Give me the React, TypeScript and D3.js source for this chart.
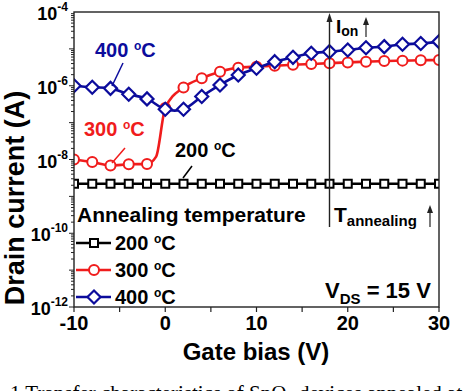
import React from "react";
import * as d3 from "d3";

// gate bias sweep (V), markers every 2 V
const gateBias = [-10, -8, -6, -4, -2, 0, 2, 4, 6, 8, 10, 12, 14, 16, 18, 20, 22, 24, 26, 28, 30];
const i200 = [2.2e-9, 2.2e-9, 2.2e-9, 2.2e-9, 2.2e-9, 2.2e-9, 2.2e-9, 2.2e-9, 2.2e-9, 2.2e-9, 2.2e-9,
  2.2e-9, 2.2e-9, 2.2e-9, 2.2e-9, 2.2e-9, 2.2e-9, 2.2e-9, 2.2e-9, 2.2e-9, 2.2e-9];
// 300 C has the steep turn-on read at -1 V too
const bias300 = [-10, -8, -6, -4, -2, -1, 0, 2, 4, 6, 8, 10, 12, 14, 16, 18, 20, 22, 24, 26, 28, 30];
const i300 = [1.0e-8, 8.5e-9, 6.9e-9, 7.4e-9, 7.6e-9, 1.2e-8, 2.5e-7, 9e-7, 1.6e-6, 2.4e-6, 3.1e-6,
  3.3e-6, 3.5e-6, 3.7e-6, 3.9e-6, 4.1e-6, 4.3e-6, 4.5e-6, 4.7e-6, 4.8e-6, 4.9e-6, 5.0e-6];
const i400 = [1.0e-6, 9.1e-7, 8.5e-7, 5.9e-7, 4.4e-7, 2.3e-7, 2.3e-7, 5.1e-7, 1.05e-6, 1.95e-6, 3.0e-6,
  4.5e-6, 5.9e-6, 7.6e-6, 8.4e-6, 9.3e-6, 1.07e-5, 1.15e-5, 1.33e-5, 1.4e-5, 1.57e-5];

const xTicks = [-10, 0, 10, 20, 30];
const xMinor = [-5, 5, 15, 25];
const yExponents = [-4, -6, -8, -10, -12];
const legendLabels = ["200", "300", "400"];

const RED = "#f01c1c";
const BLUE = "#0c0c9c";
const FONT = "'Liberation Sans', Arial, sans-serif";

const x = d3.scaleLinear().domain([-10, 30]).range([74, 439]);
const y = d3.scaleLog().domain([1e-12, 1e-4]).range([307, 12]);

type Pt = { v: number; i: number };

function Marker({ kind, cx, cy, color }: { kind: string; cx: number; cy: number; color: string }) {
  if (kind === "square")
    return <rect x={cx - 4} y={cy - 4} width={8} height={8} fill="#fff" stroke={color} strokeWidth={2} />;
  if (kind === "circle")
    return <circle cx={cx} cy={cy} r={5} fill="#fff" stroke={color} strokeWidth={2} />;
  return (
    <path d={`M${cx},${cy - 6.5}L${cx + 6.5},${cy}L${cx},${cy + 6.5}L${cx - 6.5},${cy}Z`}
      fill="#fff" stroke={color} strokeWidth={2.2} />
  );
}

function Deg({ t }: { t: string }) {
  return (
    <>
      {t + " "}
      <tspan fontSize="0.6em" dy="-0.6em">o</tspan>
      <tspan dy="0.36em">C</tspan>
    </>
  );
}

export default function App() {
  const s200: Pt[] = gateBias.map((v, k) => ({ v, i: i200[k] }));
  const s300: Pt[] = bias300.map((v, k) => ({ v, i: i300[k] }));
  const s400: Pt[] = gateBias.map((v, k) => ({ v, i: i400[k] }));

  const mk = (curve: d3.CurveFactory) =>
    d3.line<Pt>().x(d => x(d.v)).y(d => y(d.i)).curve(curve);

  const series = [
    { data: s200, color: "#000", kind: "square", line: mk(d3.curveLinear) },
    { data: s300, color: RED, kind: "circle", line: mk(d3.curveMonotoneX) },
    { data: s400, color: BLUE, kind: "diamond", line: mk(d3.curveCatmullRom.alpha(0.5)) },
  ];

  const minorY: number[] = [];
  for (let e = -12; e < -4; e++) for (let m = 1; m < 10; m++) minorY.push(m * Math.pow(10, e));

  const [x0, x1] = x.range();
  const [yb, yt] = y.range();
  const vLine = x(18);

  return (
    <svg width={474} height={391} style={{ position: "absolute", left: 0, top: 0 }} fontFamily={FONT}>
      <rect width={474} height={391} fill="#fff" />
      <defs>
        <clipPath id="plot">
          <rect x={x0} y={yt} width={x1 - x0} height={yb - yt} />
        </clipPath>
      </defs>

      {/* series */}
      <g clipPath="url(#plot)">
        {series.map((s, si) => (
          <g key={si}>
            <path d={s.line(s.data) || ""} fill="none" stroke={s.color} strokeWidth={2.6} />
            {s.data.filter(d => d.v % 2 === 0).map((d, k) => (
              <Marker key={k} kind={s.kind} cx={x(d.v)} cy={y(d.i)} color={s.color} />
            ))}
          </g>
        ))}
      </g>

      {/* frame */}
      <rect x={x0} y={yt} width={x1 - x0} height={yb - yt} fill="none" stroke="#222" strokeWidth={1.4} />

      {/* y ticks */}
      {minorY.map((v, k) => {
        const major = Math.abs(Math.log10(v) - Math.round(Math.log10(v))) < 1e-9;
        return <line key={k} x1={x0} x2={x0 - (major ? 5 : 3)} y1={y(v)} y2={y(v)} stroke="#222" strokeWidth={1} />;
      })}
      {yExponents.map(e => (
        <text key={e} x={68} y={y(Math.pow(10, e)) + 8} textAnchor="end" fontSize={18} fontWeight="bold">
          10<tspan fontSize={12} dy={-9}>{e}</tspan>
        </text>
      ))}

      {/* x ticks */}
      {xTicks.concat(xMinor).map(v => (
        <line key={v} x1={x(v)} x2={x(v)} y1={yb} y2={yb + 5} stroke="#222" strokeWidth={1.2} />
      ))}
      {xTicks.map(v => (
        <text key={v} x={x(v)} y={330} textAnchor="middle" fontSize={20} fontWeight="bold">{v}</text>
      ))}

      {/* axis titles */}
      <text x={256} y={360} textAnchor="middle" fontSize={24} fontWeight="bold">Gate bias (V)</text>
      <text transform="translate(24,198) rotate(-90)" textAnchor="middle" fontSize={27} fontWeight="bold">
        Drain current (A)
      </text>

      {/* annotations */}
      <text x={95} y={57} fontSize={20} fontWeight="bold" fill={BLUE}><Deg t="400" /></text>
      <line x1={123} y1={63} x2={112} y2={86} stroke={BLUE} strokeWidth={1.5} />
      <text x={84} y={136} fontSize={20} fontWeight="bold" fill={RED}><Deg t="300" /></text>
      <line x1={125} y1={148} x2={112} y2={163} stroke={RED} strokeWidth={1.5} />
      <text x={175} y={157} fontSize={20} fontWeight="bold" fill="#000"><Deg t="200" /></text>
      <line x1={192} y1={166} x2={183} y2={178} stroke="#000" strokeWidth={1.5} />

      {/* Ion / Tannealing arrow */}
      <line x1={vLine} x2={vLine} y1={20} y2={227} stroke="#222" strokeWidth={1.4} />
      <path d={`M${vLine - 3},${22}L${vLine},${13}L${vLine + 3},${22}Z`} fill="#222" />
      <text x={336} y={33} fontSize={19} fontWeight="bold">
        I<tspan fontSize={14} dy={3}>on</tspan>
      </text>
      <line x1={366} x2={366} y1={22} y2={37} stroke="#222" strokeWidth={1.2} />
      <path d="M363,25L366,17L369,25Z" fill="#222" />
      <text x={334} y={222} fontSize={21} fontWeight="bold">
        T<tspan fontSize={15} dy={4}>annealing</tspan>
      </text>
      <line x1={430} x2={430} y1={210} y2={227} stroke="#222" strokeWidth={1.2} />
      <path d="M427,213L430,205L433,213Z" fill="#222" />

      <text x={325} y={298} fontSize={22} fontWeight="bold">
        V<tspan fontSize={15} dy={6}>DS</tspan><tspan dy={-6}> = 15 V</tspan>
      </text>

      {/* legend */}
      <text x={77} y={222} fontSize={21} fontWeight="bold">Annealing temperature</text>
      {series.map((s, k) => {
        const ly = 243 + k * 27;
        return (
          <g key={k}>
            <line x1={76} x2={111} y1={ly} y2={ly} stroke={s.color} strokeWidth={2.6} />
            <Marker kind={s.kind} cx={94} cy={ly} color={s.color} />
            <text x={115} y={ly + 7} fontSize={20} fontWeight="bold"><Deg t={legendLabels[k]} /></text>
          </g>
        );
      })}

      {/* caption, cut off by the picture as in the source */}
      <text x={10} y={400} fontSize={21} fontFamily="'Liberation Serif', 'Times New Roman', serif">
        1 Transfer characteristics of SnO₂ devices annealed at
      </text>
    </svg>
  );
}
